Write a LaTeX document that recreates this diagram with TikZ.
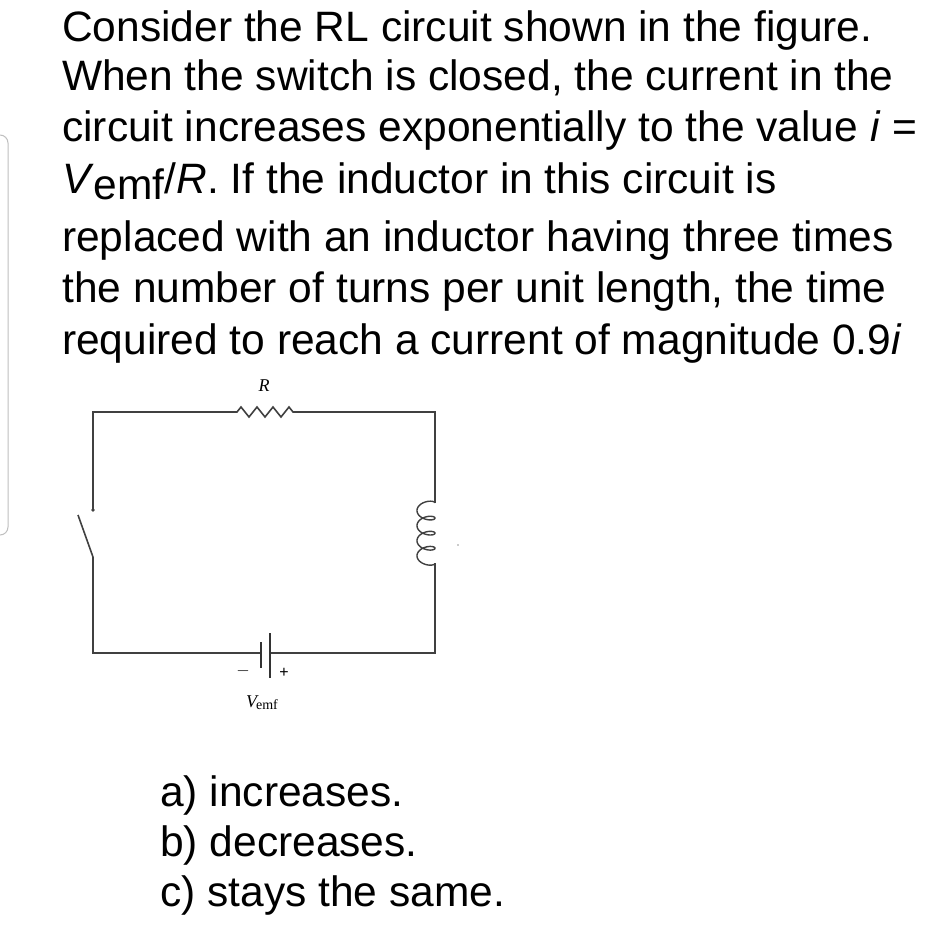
\documentclass[tikz,border=0pt]{standalone}
\usepackage{fontspec}
\setmainfont{Liberation Sans}
\newfontfamily\cserif{Liberation Serif}
\usetikzlibrary{decorations.pathmorphing}
\begin{document}
\begin{tikzpicture}[x=1pt,y=-1pt,
  txt/.style={anchor=base west,inner sep=0pt,font=\fontsize{42.5}{48}\selectfont},
  wire/.style={line width=1.6pt,black!75},
  lbl/.style={inner sep=0pt,font=\cserif\itshape\fontsize{18}{18}\selectfont}]
\useasboundingbox (0,0) rectangle (941,924);
\fill[white] (0,0) rectangle (941,924);
\draw[black!25,line width=1pt,rounded corners=8pt] (-10,135) -- (8,135) -- (8,535) -- (-10,535);
\node[txt] (l1) at (62,41) {Consider the RL circuit shown in the figure.};
\node[txt] (l2) at (62,90) {When the switch is closed, the current in the};
\node[txt] (l3) at (62,141) {circuit increases exponentially to the value \textit{i} =};
\node[txt] (l4) at (62,193) {\textit{V}\raisebox{-0.3ex}{emf}/\textit{R}. If the inductor in this circuit is};
\node[txt] (l5) at (62,251) {replaced with an inductor having three times};
\node[txt] (l6) at (62,302) {the number of turns per unit length, the time};
\node[txt] (l7) at (62,354) {required to reach a current of magnitude 0.9\textit{i}};
\node[txt] (a) at (160,806) {a) increases.};
\node[txt] (b) at (160,856) {b) decreases.};
\node[txt] (c) at (160,906) {c) stays the same.};
% circuit
\coordinate (tl) at (93,412); \coordinate (tr) at (435,412);
\coordinate (bl) at (93,653); \coordinate (br) at (435,653);
\coordinate (r1) at (230,412); \coordinate (r2) at (300,412);
\coordinate (s1) at (93,510); \coordinate (s2) at (93,557); \coordinate (sb) at (78,515);
\coordinate (i1) at (435,499); \coordinate (i2) at (435,570);
\coordinate (p1) at (261,653); \coordinate (p2) at (270,653);
\draw[wire] (s1) -- (tl) -- (r1);
\draw[wire] (r1) -- (237,412) decorate[decoration={zigzag,segment length=16pt,amplitude=5pt}]{-- (293,412)} -- (r2);
\draw[wire] (r2) -- (tr) -- (i1);
\fill[black!75] (s1) circle (1.8pt);
\draw[wire] (s2) -- (sb);
\draw[wire] (s2) -- (bl) -- (p1);
\draw[wire] (p2) -- (br) -- (i2);
\draw[wire,line width=1.4pt] plot[domain=0:25.13,samples=240,smooth] ({426+9*cos(\x r)}, {503+2.4*\x-5*sin(\x r)});
\draw[wire] (i1) -- (435,503);
\draw[wire] (435,563.3) -- (i2);
\draw[line width=1.6pt,black!80] (261,642) -- (261,668);
\draw[line width=1.6pt,black!80] (270,633) -- (270,678);
\node[lbl] (R) at (264,386) {R};
\node[inner sep=0pt,font=\fontsize{18}{18}\selectfont] (mn) at (243,671) {$-$};
\node[inner sep=0pt,font=\fontsize{16}{16}\selectfont] (pl) at (284,673) {+};
\node[lbl,anchor=base] (V) at (262,707) {V\kern-1pt\raisebox{-0.35ex}{\upshape\fontsize{14}{14}\selectfont emf}};
\fill[black!40] (458,545) circle (0.8pt);
\end{tikzpicture}
\end{document}
